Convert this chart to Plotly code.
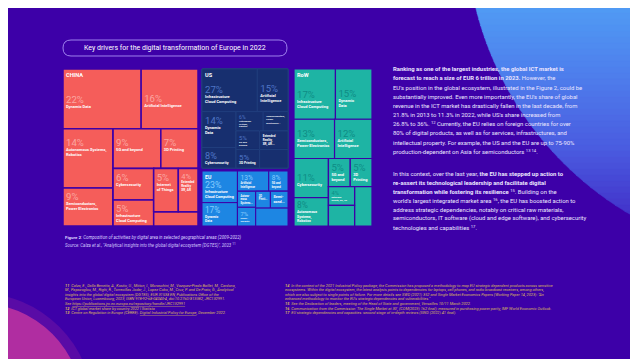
import math
import plotly.graph_objects as go

W, H = 638, 359
BG = "#3d00a8"
FONT = "Roboto"

# ---------------- chart data ----------------
china_areas = ["Dynamic Data", "Artificial Intelligence", "Autonomous Systems,\nRobotics",
               "Semiconductors,\nPower Electronics", "5G and beyond", "3D Printing",
               "Cybersecurity", "Infrastructure\nCloud Computing", "Internet\nof Things",
               "Extended\nReality\nXR, AR", "Other"]
china_values = [22, 16, 14, 9, 9, 7, 6, 5, 5, 4, 3]
china_pct = ["22%", "16%", "14%", "9%", "9%", "7%", "6%", "5%", "5%", "4%", ""]

us_areas = ["Infrastructure\nCloud Computing", "Artificial\nIntelligence", "Dynamic\nData",
            "Cybersecurity", "Autonomous\nSystems,\nRobotics", "Semiconductors,\nPower\nElectronics...",
            "5G and\nbeyond", "3D Printing", "Extended\nReality,\nXR, AR...", "Other"]
us_values = [27, 15, 14, 8, 6, 5.5, 5, 5, 6, 6]
us_pct = ["27%", "15%", "14%", "8%", "6%", "", "5%", "5%", "", ""]

eu_areas = ["Infrastructure\nCloud Computing", "Dynamic\nData", "Artificial\nIntelligence",
            "5G and\nbeyond", "Autono-\nmous\nSystems...", "Cyber-\nsecurity", "3D\nPrinti...",
            "Semi-\ncond...", "Other"]
eu_values = [23, 17, 13, 8, 6, 7, 5, 6, 12]
eu_pct = ["23%", "17%", "13%", "8%", "", "7%", "", "", ""]

row_areas = ["Infrastructure\nCloud Computing", "Dynamic\nData", "Semiconductors,\nPower Electronics",
             "Artificial\nIntelligence", "Cybersecurity", "Autonomous\nSystems,\nRobotics",
             "5G and\nbeyond", "3D\nPrinting", "Extended\nReality, XR, AR", "Other", "Other"]
row_values = [17, 15, 13, 12, 11, 8, 5, 5, 4, 4.4, 5.6]
row_pct = ["17%", "15%", "13%", "12%", "11%", "8%", "5%", "5%", "4%", "", ""]

# nesting of the tiles (slice / dice alternate with depth)
china_tiles = [[[0, 1], [[2, 3], [[4, 5], [[6, 7], [[8, 9], 10]]]]]]
us_tiles = [[[0, 1], [[2, 3], [[4, 5], [[6, 7], [8, 9]]]]]]
eu_tiles = [[0, 1], [[2, 3], [[4, 5], [[6, 7], 8]]]]
row_tiles = [[[0, 1], [2, 3], [[4, 5], [[6, 7], [[8, 9], 10]]]]]

# ---------------- text ----------------
para1 = [
    "<b>Ranking as one of the largest industries, the global ICT market is</b>",
    "<b>forecast to reach a size of EUR 6 trillion in 2023.</b> However, the",
    "EU's position in the global ecosystem, illustrated in the Figure 2, could be",
    "substantially improved. Even more importantly, the EU's share of global",
    "revenue in the ICT market has drastically fallen in the last decade, from",
    "21.8% in 2013 to 11.3% in 2022, while US's share increased from",
    "26.8% to 36%. <sup>12</sup> Currently, the EU relies on foreign countries for over",
    "80% of digital products, as well as for services, infrastructures, and",
    "intellectual property. For example, the US and the EU are up to 75-90%",
    "production-dependent on Asia for semiconductors <sup>13 14</sup>.",
]
para2 = [
    "In this context, over the last year, <b>the EU has stepped up action to</b>",
    "<b>re-assert its technological leadership and facilitate digital</b>",
    "<b>transformation while fostering its resilience</b> <sup>15</sup>. Building on the",
    "world's largest integrated market area <sup>16</sup>, the EU has boosted action to",
    "address strategic dependencies, notably on critical raw materials,",
    "semiconductors, IT software (cloud and edge software), and cybersecurity",
    "technologies and capabilities <sup>17</sup>.",
]
notes_left = [
    "<b>11</b>  Calza, E., Dalla Benetta, A., Kostic, U., Mitton, I., Moraschini, M., Vazquez-Prada Baillet, M., Cardona,",
    "M., Papazoglou, M., Righi, R., Torrecillas Jodar, J., Lopez Cobo, M., Cruz, P. and De Prato, G., Analytical",
    "insights into the global digital ecosystem (DGTES), EUR 31538 EN, Publications Office of the",
    "European Union, Luxembourg, 2023, ISBN 978-92-68-04040-4, doi:10.2760/813382, JRC132991.",
    "See <u>https://publications.jrc.ec.europa.eu/repository/handle/JRC132991</u>",
    "<b>12</b>  ICT global market share by country 2022 | Statista",
    "<b>13</b>  Centre on Regulation in Europe (CERRE). <u>Digital Industrial Policy for Europe</u>, December 2022.",
]
notes_right = [
    "<b>14</b>  In the context of the 2021 Industrial Policy package, the Commission has proposed a methodology to map EU strategic dependent products across sensitive",
    "ecosystems. Within the digital ecosystem, the latest analysis points to dependencies for laptops, cell phones, and radio broadcast receivers, among others,",
    "which are also subject to single points of failure. For more details see SWD (2021) 352 and Single Market Economics Papers (Working Paper 14, 2023): \"An",
    "enhanced methodology to monitor the EU's strategic dependencies and vulnerabilities.\"",
    "<b>15</b>  See the Declaration of leaders, meeting of the Head of State and government, Versailles 10/11 March 2022.",
    "<b>16</b>  Communication from the Commission 'The Single Market at 30', (COM(2023) 162 final); measured in purchasing power parity, IMF World Economic Outlook.",
    "<b>17</b>  EU strategic dependencies and capacities: second stage of in-depth reviews (SWD (2022) 41 final).",
]
title_text = "Key drivers for the digital transformation of Europe in 2022"
caption1 = "<b>Figure 2</b><i>: Composition of activities by digital area in selected geographical areas (2009-2022)</i>"
caption2 = "<i>Source: Calza et al., \"Analytical insights into the global digital ecosystem (DGTES)\", 2023 </i><sup>11</sup>"


def X(p):
    return p / W


def Y(p):
    return 1 - p / H


NB = "\u00a0"
HEAD_SIZE = 5.6
PCT_SIZE = 9.6
BASE_SIZE = 4.0

fig = go.Figure()

# ---- background decoration on a hidden pixel-scaled axis: bright disc, blue at top -> violet
CX, CY, R = 790, -80, 332
stops = [(0, (80, 155, 244)), (70, (78, 125, 236)), (140, (74, 92, 224)), (225, (64, 40, 196))]


def grad(y):
    for (ya_, ca), (yb_, cb) in zip(stops[:-1], stops[1:]):
        if y <= yb_:
            t = max(0.0, (y - ya_) / (yb_ - ya_))
            return "rgb(%d,%d,%d)" % tuple(round(ca[i] + t * (cb[i] - ca[i])) for i in range(3))
    return "rgb(%d,%d,%d)" % stops[-1][1]


y_end = CY + math.sqrt(R * R - (W + 2 - CX) ** 2)
band = 6.0
yt = -1.0
while yt < y_end:
    yb = min(yt + band + 0.8, y_end)
    xs, ys = [], []
    for s in range(5):
        yy = yt + (yb - yt) * s / 4
        xs.append(CX - math.sqrt(max(R * R - (yy - CY) ** 2, 0.0)))
        ys.append(yy)
    xs += [W + 2, W + 2, xs[0]]
    ys += [yb, yt, ys[0]]
    col = grad((yt + yb) / 2)
    fig.add_trace(go.Scatter(x=xs, y=ys, mode="lines", fill="toself", fillcolor=col,
                             line=dict(width=0.5, color=col), hoverinfo="skip",
                             showlegend=False, opacity=1))
    yt += band


def add_region(region, areas, values, pcts, tiles, color, pct_color, line_color, line_width,
               head_lines, row1, leads, box):
    def cell_text(i):
        if areas[i] == "Other":
            return ""
        lines = []
        if i == 0:
            lines.append(f"<span style='font-size:{HEAD_SIZE}px'><b>{region}</b></span>")
            lines += [NB] * (head_lines - 1)
        elif i in row1:
            lines += [NB] * head_lines
        else:
            lines += [NB] * leads[i]
        if pcts[i]:
            lines.append(f"<span style='font-size:{PCT_SIZE}px;color:{pct_color}'>{pcts[i]}</span>")
        lines += ["<b>" + s + "</b>" for s in areas[i].split("\n")]
        return "<br>".join(lines)

    ids, labels, parents, vals, texts = [region], [region], [""], [0], [""]
    counter = [0]

    def walk(node, parent):
        for child in node:
            if isinstance(child, list):
                counter[0] += 1
                gid = f"{region}/g{counter[0]}"
                ids.append(gid); labels.append(gid); parents.append(parent)
                vals.append(0); texts.append("")
                walk(child, gid)
            else:
                ids.append(f"{region}/{child}"); labels.append(areas[child].replace("\n", " "))
                parents.append(parent); vals.append(values[child]); texts.append(cell_text(child))

    walk(tiles, region)
    x0, y0, x1, y1 = box
    fig.add_trace(go.Treemap(
        ids=ids, labels=labels, parents=parents, values=vals, text=texts,
        texttemplate="%{text}", textposition="top left", branchvalues="remainder", sort=False,
        tiling=dict(packing="slice-dice", pad=0),
        marker=dict(colors=[color] * len(ids), line=dict(color=line_color, width=line_width),
                    pad=dict(t=0, l=0, r=0, b=0), depthfade=False),
        root=dict(color=color), pathbar=dict(visible=False),
        textfont=dict(family=FONT, size=BASE_SIZE, color="white"),
        hoverinfo="skip", domain=dict(x=[X(x0), X(x1)], y=[Y(y1), Y(y0)]),
    ))


add_region("CHINA", china_areas, china_values, china_pct, china_tiles, "#f55d5a", "#fba7a3", BG, 1.5,
           5, [1], [0, 0, 2, 0, 2, 2, 1, 0, 1, 1, 0], (55, 61, 190, 218))
add_region("US", us_areas, us_values, us_pct, us_tiles, "#172f6f", "#4f75c6", "#22407f", 0.8,
           3, [1], [0] * 10, (194, 61, 280, 160))
add_region("EU", eu_areas, eu_values, eu_pct, eu_tiles, "#1d86e3", "#86ccff", BG, 1.0,
           2, [], [0] * 9, (194, 163, 280, 218))
add_region("RoW", row_areas, row_values, row_pct, row_tiles, "#1eb4a4", "#0f8c84", BG, 1.2,
           4, [1], [0, 0, 2, 2, 3, 0, 1, 1, 0, 0, 0], (286, 61, 364, 218))


def P(x, y):
    return f"{X(x):.5f},{Y(y):.5f}"


def rpath(x0, y0, x1, y1, r):
    return (f"M{P(x0 + r, y0)} L{P(x1 - r, y0)} Q{P(x1, y0)} {P(x1, y0 + r)} "
            f"L{P(x1, y1 - r)} Q{P(x1, y1)} {P(x1 - r, y1)} L{P(x0 + r, y1)} "
            f"Q{P(x0, y1)} {P(x0, y1 - r)} L{P(x0, y0 + r)} Q{P(x0, y0)} {P(x0 + r, y0)} Z")


shapes = [
    dict(type="circle", xref="paper", yref="paper", x0=X(-145), x1=X(85), y0=Y(515), y1=Y(285),
         fillcolor="rgba(214,60,160,0.18)", line=dict(width=0), layer="below"),
    dict(type="circle", xref="paper", yref="paper", x0=X(-135), x1=X(75), y0=Y(505), y1=Y(295),
         fillcolor="rgba(214,60,160,0.7)", line=dict(width=0), layer="below"),
    dict(type="path", xref="paper", yref="paper", path=rpath(55, 32, 279, 48, 8),
         fillcolor="rgba(0,0,0,0)", line=dict(color="#a990f5", width=0.9)),
]

annotations = [
    dict(text=title_text, x=X(167), y=Y(40), xref="paper", yref="paper", xanchor="center",
         yanchor="middle", showarrow=False, font=dict(family=FONT, size=7, color="white")),
    dict(text=caption1, x=X(55), y=Y(229), xref="paper", yref="paper", xanchor="left",
         yanchor="middle", showarrow=False, font=dict(family=FONT, size=4.4, color="#dcd2ff")),
    dict(text=caption2, x=X(55), y=Y(237), xref="paper", yref="paper", xanchor="left",
         yanchor="middle", showarrow=False, font=dict(family=FONT, size=4.4, color="#cfc3fb")),
]

PF = 5.9
for k, ln in enumerate(para1):
    annotations.append(dict(text=ln, x=X(383), y=Y(62 + 9.15 * k + 4.3), xref="paper", yref="paper",
                            xanchor="left", yanchor="bottom", showarrow=False,
                            font=dict(family=FONT, size=PF, color="#ece6ff")))
for k, ln in enumerate(para2):
    annotations.append(dict(text=ln, x=X(383), y=Y(166.5 + 9.1 * k + 4.3), xref="paper", yref="paper",
                            xanchor="left", yanchor="bottom", showarrow=False,
                            font=dict(family=FONT, size=PF, color="#ece6ff")))
for k, ln in enumerate(notes_left):
    annotations.append(dict(text=ln, x=X(55), y=Y(277 + 4.6 * k), xref="paper", yref="paper",
                            xanchor="left", yanchor="middle", showarrow=False,
                            font=dict(family=FONT, size=3.9, color="#dcb95e", style="italic")))
for k, ln in enumerate(notes_right):
    annotations.append(dict(text=ln, x=X(275), y=Y(277 + 4.6 * k), xref="paper", yref="paper",
                            xanchor="left", yanchor="middle", showarrow=False,
                            font=dict(family=FONT, size=3.9, color="#dcb95e", style="italic")))

fig.update_layout(
    width=W, height=H, margin=dict(l=0, r=0, t=0, b=0),
    paper_bgcolor=BG, plot_bgcolor="rgba(0,0,0,0)", showlegend=False,
    xaxis=dict(range=[0, W], visible=False, fixedrange=True, domain=[0, 1]),
    yaxis=dict(range=[H, 0], visible=False, fixedrange=True, domain=[0, 1]),
    shapes=shapes, annotations=annotations,
)

fig.write_html("out.html", config=dict(staticPlot=True, displayModeBar=False))
